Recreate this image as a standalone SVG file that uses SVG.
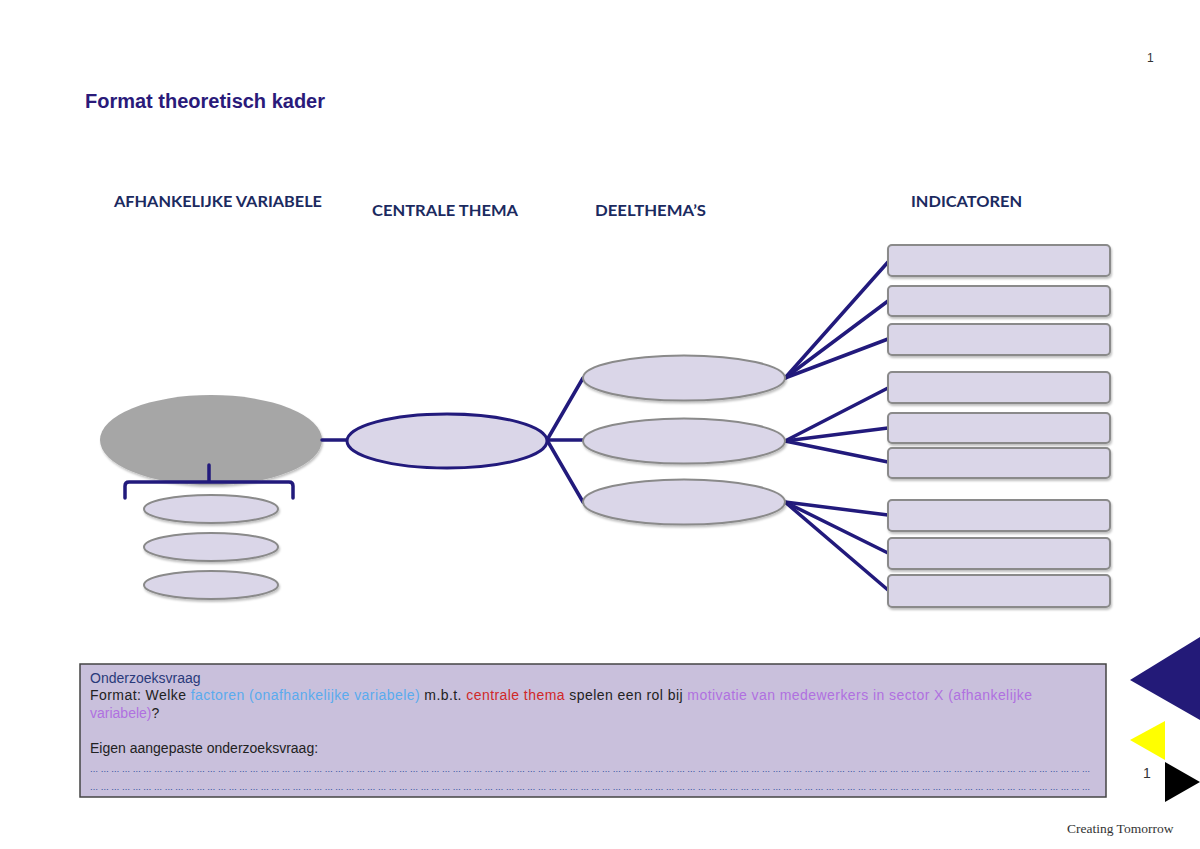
<svg xmlns="http://www.w3.org/2000/svg" width="1200" height="849" viewBox="0 0 1200 849">
<style>
.hdr{font-family:Lato,"Liberation Sans",sans-serif;font-weight:bold;font-size:16px;fill:#1b2a60}
.conn{stroke:#221a7c;stroke-width:3.5;fill:none;stroke-linecap:round}
.oval{fill:#dad6e8;stroke:#8a8a8a;stroke-width:2}
.ind{fill:#dad6e8;stroke:#8a8a8a;stroke-width:2}
.txt{font-family:"Liberation Sans",Arial,sans-serif;font-size:14px;fill:#222}
.dots{font-family:"DejaVu Sans","Liberation Sans",sans-serif;font-size:8px;fill:#2a4a9a}
</style>
<defs>
<filter id="sh" x="-10%" y="-20%" width="120%" height="150%">
<feDropShadow dx="1" dy="2" stdDeviation="1.2" flood-color="#000" flood-opacity="0.25"/>
</filter>
</defs>
<rect width="1200" height="849" fill="#fff"/>
<text x="1147" y="62" font-family="Liberation Sans,sans-serif" font-size="12" fill="#333">1</text>
<text x="85" y="108" font-family="Liberation Sans,Arial,sans-serif" font-weight="bold" font-size="20" fill="#2a1a7a" textLength="240" lengthAdjust="spacingAndGlyphs">Format theoretisch kader</text>
<text class="hdr" x="114" y="207" textLength="208" lengthAdjust="spacingAndGlyphs">AFHANKELIJKE VARIABELE</text>
<text class="hdr" x="372" y="216" textLength="146" lengthAdjust="spacingAndGlyphs">CENTRALE THEMA</text>
<text class="hdr" x="595" y="216" textLength="111" lengthAdjust="spacingAndGlyphs">DEELTHEMA’S</text>
<text class="hdr" x="911" y="207" textLength="111" lengthAdjust="spacingAndGlyphs">INDICATOREN</text>

<g id="afhankelijke"><ellipse cx="211" cy="440" rx="111" ry="45" fill="#a6a6a6" filter="url(#sh)"/></g>
<g id="factor1"><ellipse class="oval" cx="211" cy="509" rx="67" ry="14" filter="url(#sh)"/></g>
<g id="factor2"><ellipse class="oval" cx="211" cy="547" rx="67" ry="14" filter="url(#sh)"/></g>
<g id="factor3"><ellipse class="oval" cx="211" cy="585" rx="67" ry="14" filter="url(#sh)"/></g>

<g id="connectors">
<line class="conn" x1="322" y1="440" x2="348" y2="440"/>
<path class="conn" d="M209,465 V481 M125,498 V486 Q125,482 129,482 H289 Q293,482 293,486 V498"/>
<line class="conn" x1="547" y1="440" x2="583" y2="378"/>
<line class="conn" x1="547" y1="440" x2="583" y2="440"/>
<line class="conn" x1="547" y1="440" x2="583" y2="502"/>
<line class="conn" x1="785" y1="378" x2="888" y2="262"/>
<line class="conn" x1="785" y1="378" x2="888" y2="301"/>
<line class="conn" x1="785" y1="378" x2="888" y2="339"/>
<line class="conn" x1="785" y1="441" x2="888" y2="388"/>
<line class="conn" x1="785" y1="441" x2="888" y2="428"/>
<line class="conn" x1="785" y1="441" x2="888" y2="462"/>
<line class="conn" x1="785" y1="502" x2="888" y2="515"/>
<line class="conn" x1="785" y1="502" x2="888" y2="553"/>
<line class="conn" x1="785" y1="502" x2="888" y2="590"/>
</g>

<g id="centraal"><ellipse cx="447" cy="441" rx="100" ry="27" fill="#dad6e8" stroke="#221a7c" stroke-width="3"/></g>
<g id="deel1"><ellipse class="oval" cx="684" cy="378" rx="101" ry="22.5" filter="url(#sh)"/></g>
<g id="deel2"><ellipse class="oval" cx="684" cy="441" rx="101" ry="22.5" filter="url(#sh)"/></g>
<g id="deel3"><ellipse class="oval" cx="684" cy="502" rx="101" ry="22.5" filter="url(#sh)"/></g>

<g id="ind1"><rect class="ind" x="888" y="245" width="222" height="31" rx="4" filter="url(#sh)"/></g>
<g id="ind2"><rect class="ind" x="888" y="286" width="222" height="30" rx="4" filter="url(#sh)"/></g>
<g id="ind3"><rect class="ind" x="888" y="324" width="222" height="31" rx="4" filter="url(#sh)"/></g>
<g id="ind4"><rect class="ind" x="888" y="372" width="222" height="31" rx="4" filter="url(#sh)"/></g>
<g id="ind5"><rect class="ind" x="888" y="413" width="222" height="30" rx="4" filter="url(#sh)"/></g>
<g id="ind6"><rect class="ind" x="888" y="448" width="222" height="30" rx="4" filter="url(#sh)"/></g>
<g id="ind7"><rect class="ind" x="888" y="500" width="222" height="31" rx="4" filter="url(#sh)"/></g>
<g id="ind8"><rect class="ind" x="888" y="538" width="222" height="31" rx="4" filter="url(#sh)"/></g>
<g id="ind9"><rect class="ind" x="888" y="575" width="222" height="32" rx="4" filter="url(#sh)"/></g>

<g id="onderzoeksvraag">
<rect x="80" y="664" width="1026" height="133" fill="#c9c0dc" stroke="#444" stroke-width="1.5"/>
<text class="txt" x="90" y="683" style="fill:#2a3a7a">Onderzoeksvraag</text>
<text class="txt" x="90" y="700" textLength="942" lengthAdjust="spacing">Format: Welke <tspan fill="#5aabee">factoren (onafhankelijke variabele)</tspan> m.b.t. <tspan fill="#d02828">centrale thema</tspan> spelen een rol bij <tspan fill="#b070e0">motivatie van medewerkers in sector X (afhankelijke</tspan></text>
<text class="txt" x="90" y="718"><tspan fill="#b070e0">variabele)</tspan>?</text>
<text class="txt" x="90" y="753">Eigen aangepaste onderzoeksvraag:</text>
<text class="dots" x="90" y="772" textLength="1000" lengthAdjust="spacing">…………………………………………………………………………………………………………………………………………………………………………………………………………………………………………………………</text>
<text class="dots" x="90" y="790" textLength="1000" lengthAdjust="spacing">…………………………………………………………………………………………………………………………………………………………………………………………………………………………………………………………</text>
</g>

<polygon points="1130,680 1200,637 1200,720" fill="#231a78"/>
<polygon points="1130,740 1165,721 1165,760" fill="#ffff00"/>
<polygon points="1165,762 1165,802 1200,782" fill="#000"/>
<text x="1143" y="778" font-family="Liberation Sans,sans-serif" font-size="14" fill="#333">1</text>
<text x="1067" y="833" font-family="Liberation Serif,serif" font-size="13.5" fill="#333">Creating Tomorrow</text>
</svg>
